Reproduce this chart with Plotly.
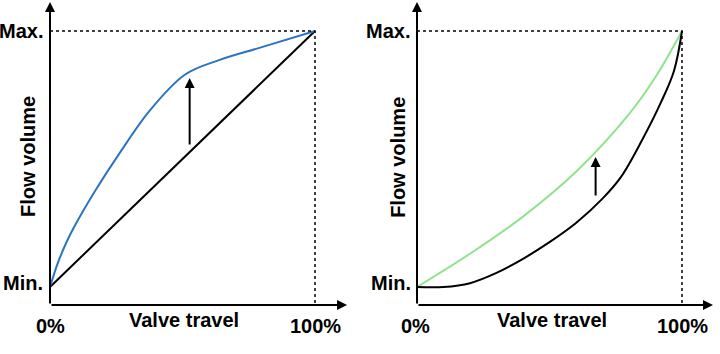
import plotly.graph_objects as go

# ---------------- data (fractions of valve travel / flow range) ----------------
left_linear_x = [0.0, 1.0]
left_linear_y = [0.0, 1.0]

left_blue_x = [0.0, 0.03, 0.06, 0.094, 0.17, 0.264, 0.377, 0.51, 0.64, 0.79, 1.0]
left_blue_y = [0.0, 0.095, 0.17, 0.24, 0.375, 0.525, 0.69, 0.83, 0.887, 0.934, 1.0]

right_black_x = [0.0, 0.1, 0.2, 0.3, 0.4, 0.5, 0.6, 0.7, 0.77, 0.85, 0.92, 0.97, 1.0]
right_black_y = [0.0, 0.0, 0.015, 0.055, 0.11, 0.175, 0.25, 0.345, 0.43, 0.575, 0.72, 0.845, 1.0]

right_green_x = [0.0, 0.2, 0.4, 0.6, 0.8, 0.9, 1.0]
right_green_y = [0.0, 0.13, 0.275, 0.45, 0.675, 0.82, 1.0]

# arrows (x, tail y, head y)
left_arrow = [0.527, 0.551, 0.816]
right_arrow = [0.674, 0.352, 0.508]

y_tick_labels = ["Min.", "Max."]
x_tick_labels = ["0%", "100%"]
x_title = "Valve travel"
y_title = "Flow volume"

# ---------------- figure ----------------
BLACK = "#000000"
BLUE = "#2b74c2"
GREEN = "#8fe38f"
FONT = dict(family="Liberation Sans, Arial, sans-serif", size=20, color=BLACK, weight="bold")

AX_Y = -0.0703   # position of the horizontal axis line
Y_TOP = 1.113
fig = go.Figure()

# left panel
fig.add_trace(go.Scatter(x=left_linear_x, y=left_linear_y, mode="lines",
                         line=dict(color=BLACK, width=2), xaxis="x", yaxis="y"))
fig.add_trace(go.Scatter(x=left_blue_x, y=left_blue_y, mode="lines",
                         line=dict(color=BLUE, width=2, shape="spline", smoothing=1.0),
                         xaxis="x", yaxis="y"))
# right panel
fig.add_trace(go.Scatter(x=right_green_x, y=right_green_y, mode="lines",
                         line=dict(color=GREEN, width=2, shape="spline", smoothing=1.0),
                         xaxis="x2", yaxis="y2"))
fig.add_trace(go.Scatter(x=right_black_x, y=right_black_y, mode="lines",
                         line=dict(color=BLACK, width=2, shape="spline", smoothing=1.0),
                         xaxis="x2", yaxis="y2"))

# dotted guide lines
for xa, ya in (("x", "y"), ("x2", "y2")):
    fig.add_trace(go.Scatter(x=[0, 1, 1], y=[1, 1, AX_Y], mode="lines",
                             line=dict(color=BLACK, width=1.5, dash="dot"),
                             xaxis=xa, yaxis=ya))

annotations = []


def axis_arrow(xr, yr, x, y, ax, ay):
    annotations.append(dict(xref=xr, yref=yr, axref=xr, ayref=yr, x=x, y=y, ax=ax, ay=ay,
                            showarrow=True, arrowhead=2, arrowsize=1, arrowwidth=2,
                            arrowcolor=BLACK, text=""))


def label(xr, yr, x, y, text, xanchor="center", angle=0):
    annotations.append(dict(xref=xr, yref=yr, x=x, y=y, text=text, showarrow=False,
                            xanchor=xanchor, yanchor="middle", textangle=angle, font=FONT))


panels = [
    ("x", "y", 1.121, left_arrow, -0.019, -0.019, 0.0, 0.506, 1.0, -0.083),
    ("x2", "y2", 1.117, right_arrow, -0.019, -0.015, -0.004, 0.509, 1.0, -0.072),
]
for xr, yr, xtip, arr, max_x, min_x, zero_x, title_x, hund_x, ytitle_x in panels:
    axis_arrow(xr, yr, 0, Y_TOP, 0, AX_Y)
    axis_arrow(xr, yr, xtip, AX_Y, 0, AX_Y)
    axis_arrow(xr, yr, arr[0], arr[2], arr[0], arr[1])
    label(xr, yr, max_x, 1.0, y_tick_labels[1], xanchor="right")
    label(xr, yr, min_x, 0.0156, y_tick_labels[0], xanchor="right")
    label(xr, yr, zero_x, -0.152, x_tick_labels[0])
    label(xr, yr, hund_x, -0.152, x_tick_labels[1])
    label(xr, yr, title_x, -0.129, x_title)
    label(xr, yr, ytitle_x, 0.508, y_title, angle=-90)

hidden = dict(visible=False, fixedrange=True)
fig.update_layout(
    width=720, height=354,
    margin=dict(l=0, r=0, t=0, b=0),
    paper_bgcolor="white", plot_bgcolor="white",
    showlegend=False,
    xaxis=dict(domain=[0, 0.5], range=[-0.18868, 1.16981], **hidden),
    yaxis=dict(domain=[0, 1], range=[-0.26172, 1.12109], anchor="x", **hidden),
    xaxis2=dict(domain=[0.5, 1], range=[-0.21509, 1.14340], anchor="y2", **hidden),
    yaxis2=dict(domain=[0, 1], range=[-0.26172, 1.12109], anchor="x2", **hidden),
    annotations=annotations,
)

fig.write_html("out.html")
